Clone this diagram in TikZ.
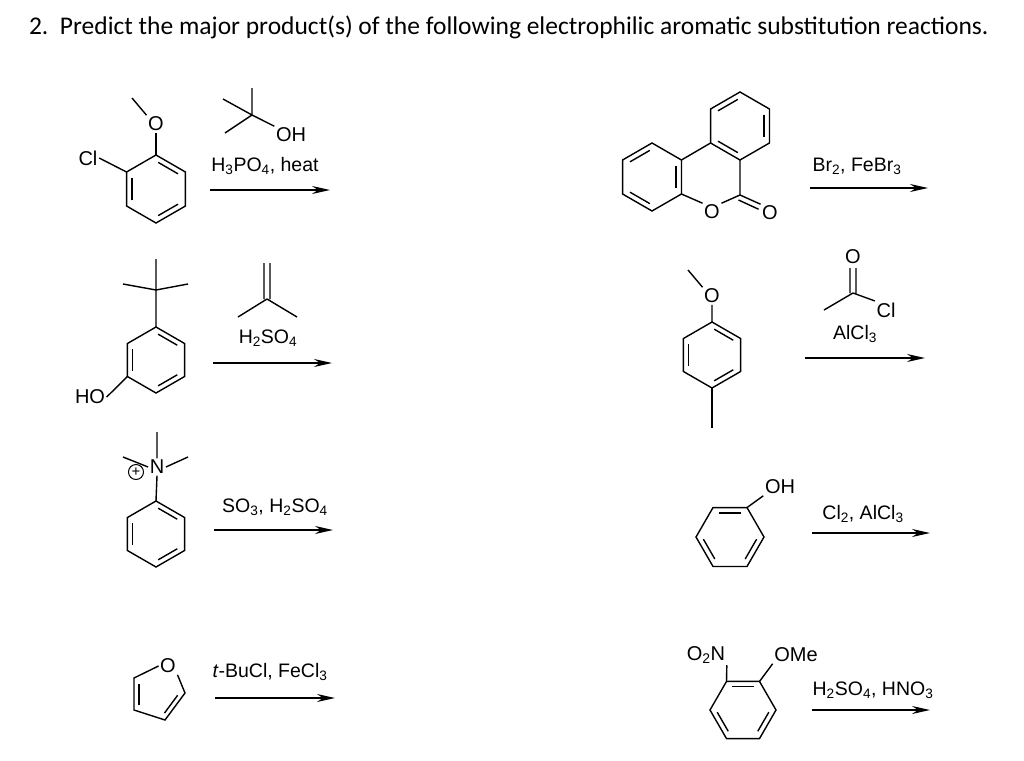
\documentclass[tikz,border=0pt]{standalone}
\usepackage{fontspec}
\setmainfont{Liberation Sans}
\newfontfamily\titlefont{Carlito}
\usetikzlibrary{calc,arrows.meta}
\newcommand\sbs[1]{\textsubscript{#1}}
\newcommand\hexr[5]{%
  \coordinate (#1) at #2;
  \foreach \i in {0,...,5} \coordinate (#1-\i) at ($(#1)+({#4-60*\i}:#3pt)$);
  \draw (#1-0)--(#1-1)--(#1-2)--(#1-3)--(#1-4)--(#1-5)--cycle;
  \foreach \a/\b in {#5} \draw[shorten <=2.5pt,shorten >=2.5pt] ($(#1)!0.82!(#1-\a)$)--($(#1)!0.82!(#1-\b)$);
}
\begin{document}
\begin{tikzpicture}[x=1pt,y=-1pt,line width=1.4pt,
  atom/.style={inner sep=1pt,font=\fontsize{20}{22}\selectfont},
  reag/.style={inner sep=0pt,font=\fontsize{19.5}{22}\selectfont},
  rxn/.style={-{Stealth[length=18pt,width=8pt]},line width=1.4pt}]
\useasboundingbox (0,0) rectangle (1024,760);
\node[anchor=west,font=\titlefont\fontsize{25.5}{28}\selectfont] (title) at (25,27) {2.\ \ Predict the major product(s) of the following electrophilic aromatic substitution reactions.};

% ---- 1: 2-chloroanisole
\hexr{a}{(156,189)}{34}{90}{0/1,2/3,4/5}
\node[atom] (aO) at (156,124) {O};
\draw (a-0)--(aO.south); \draw (aO.north west)--(132,98);
\node[atom] (aCl) at (88,158) {Cl};
\draw (a-5)--(aCl.east);
\coordinate (t1) at (252,115);
\draw (t1)--(223,99) (t1)--(225,133) (t1)--(252,88);
\node[atom] (t1OH) at (291,135) {OH};
\draw (t1)--(t1OH.north west);
\node[reag] (r1) at (265,166) {H\sbs{3}PO\sbs{4}, heat};
\coordinate (s1) at (210,190); \coordinate (e1) at (330,190);
\draw[rxn] (s1)--(e1);

% ---- 2: 3-tert-butylphenol
\hexr{b}{(156,360)}{33}{90}{0/1,2/3,4/5}
\coordinate (bq) at (156,290);
\draw (b-0)--(bq) (bq)--(156,259) (bq)--(123,284) (bq)--(188,284);
\node[atom] (bOH) at (90,397) {HO};
\draw (b-4)--(bOH.east);
\coordinate (ib) at (267,299);
\draw (ib)--(238,317) (ib)--(297,317) (264,299)--(264,263) (270,299)--(270,263);
\node[reag] (r2) at (268,338) {H\sbs{2}SO\sbs{4}};
\coordinate (s2) at (213,363); \coordinate (e2) at (332,363);
\draw[rxn] (s2)--(e2);

% ---- 3: trimethylanilinium
\hexr{c}{(156,534)}{33}{90}{0/1,2/3,4/5}
\node[atom] (cN) at (157,467) {N};
\draw (c-0)--(cN.south) (cN.north)--(157,432) (cN.east)--(188,457) (cN.west)--(123,457);
\node[draw,circle,line width=1pt,inner sep=0pt,minimum size=15pt,font=\fontsize{15}{15}\selectfont] (plus) at (136,472) {+};
\node[reag] (r3) at (275,507) {SO\sbs{3}, H\sbs{2}SO\sbs{4}};
\coordinate (s3) at (214,530); \coordinate (e3) at (333,530);
\draw[rxn] (s3)--(e3);

% ---- 4: furan
\node[atom] (fO) at (168,666) {O};
\coordinate (f2) at (185,693); \coordinate (f3) at (165,720);
\coordinate (f4) at (134,710); \coordinate (f5) at (134,678);
\draw (fO.south east)--(f2)--(f3)--(f4)--(f5)--(fO.west);
\coordinate (fc) at (157,696);
\draw[shorten <=2pt,shorten >=2pt] ($(fc)!0.78!(f2)$)--($(fc)!0.78!(f3)$);
\draw[shorten <=2pt,shorten >=2pt] ($(fc)!0.78!(f4)$)--($(fc)!0.78!(f5)$);
\node[reag] (r4) at (270,672) {\textit{t}-BuCl, FeCl\sbs{3}};
\coordinate (s4) at (215,698); \coordinate (e4) at (335,698);
\draw[rxn] (s4)--(e4);

% ---- 5: benzo[c]chromenone
\hexr{L}{(652,177)}{34}{90}{5/0,1/2,3/4}
\hexr{R}{(740,126)}{34}{90}{5/0,1/2,3/4}
\node[atom] (dO) at (712,212) {O};
\coordinate (dC) at (740,195);
\node[atom] (dO2) at (770,213) {O};
\draw (L-1)--(R-4) (R-3)--(dC) (dC)--(dO.north east) (dO.north west)--(L-2);
\draw (dC)--(dO2.north west);
\draw ($(dC)+(-1.5,5)$)--($(dO2.north west)+(-2,5)$);
\node[reag] (r5) at (857,166) {Br\sbs{2}, FeBr\sbs{3}};
\coordinate (s5) at (810,188); \coordinate (e5) at (928,188);
\draw[rxn] (s5)--(e5);

% ---- 6: 4-methylanisole
\hexr{m}{(712,355)}{33}{90}{0/1,2/3,4/5}
\node[atom] (mO) at (712,296) {O};
\draw (m-0)--(mO.south) (mO.north west)--(688,270);
\draw (m-3)--(712,428);
\coordinate (ac) at (853,293);
\node[atom] (acO) at (853,257) {O};
\node[atom] (acCl) at (886,310) {Cl};
\draw (ac)--(824,310) (ac)--(acCl.north west) (850,293)--(850,268) (856,293)--(856,268);
\node[reag] (r6) at (855,334) {AlCl\sbs{3}};
\coordinate (s6) at (805,358); \coordinate (e6) at (925,358);
\draw[rxn] (s6)--(e6);

% ---- 7: phenol
\hexr{p}{(730,537)}{34}{120}{0/1,2/3,4/5}
\node[atom] (pOH) at (780,487) {OH};
\draw (p-1)--(pOH.south west);
\node[reag] (r7) at (863,514) {Cl\sbs{2}, AlCl\sbs{3}};
\coordinate (s7) at (812,533); \coordinate (e7) at (930,533);
\draw[rxn] (s7)--(e7);

% ---- 8: 2-nitroanisole
\hexr{n}{(743,710)}{33}{120}{0/1,2/3,4/5}
\node[atom] (nNO) at (706,655) {O\sbs{2}N};
\node[atom] (nOMe) at (796,655) {OMe};
\draw (n-0)--(nNO.south east) (n-1)--(nOMe.south west);
\node[reag] (r8) at (873,690) {H\sbs{2}SO\sbs{4}, HNO\sbs{3}};
\coordinate (s8) at (812,710); \coordinate (e8) at (930,710);
\draw[rxn] (s8)--(e8);
\end{tikzpicture}
\end{document}
